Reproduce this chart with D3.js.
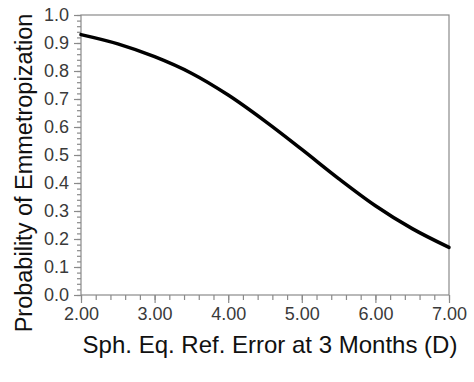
<!DOCTYPE html>
<html>
<head>
<meta charset="utf-8">
<script src="https://cdn.jsdelivr.net/npm/d3@7.9.0/dist/d3.min.js"></script>
<style>
  body { margin: 0; background: #fff; }
  svg { display: block; font-family: "Liberation Sans", Arial, sans-serif; }
</style>
</head>
<body>
<svg id="chart" width="474" height="382"></svg>
<script>
// refractive error at 3 months (D) and the fitted probability
const errorD = [2.0, 2.5, 3.0, 3.5, 4.0, 4.5, 5.0, 5.5, 6.0, 6.5, 7.0];
const probability = [0.93, 0.897, 0.851, 0.792, 0.714, 0.621, 0.52, 0.416, 0.319, 0.237, 0.17];

const xTicks = [2, 3, 4, 5, 6, 7];
const yTicks = [0, 0.1, 0.2, 0.3, 0.4, 0.5, 0.6, 0.7, 0.8, 0.9, 1.0];

const width = 474, height = 382;
const margin = { top: 15, right: 25, bottom: 87, left: 81 };

const svg = d3.select("#chart");

let x = d3.scaleLinear().domain([2, 7]).range([margin.left, width - margin.right]);
let y = d3.scaleLinear().domain([0, 1]).range([height - margin.bottom, margin.top]);

const axisColor = "#8a8a8a";

// frame around the plot
svg.append("rect")
    .attr("x", x(2))
    .attr("y", y(1))
    .attr("width", x(7) - x(2))
    .attr("height", y(0) - y(1))
    .attr("fill", "none")
    .attr("stroke", axisColor)
    .attr("stroke-width", 1.2);

// minor ticks first, then major ticks with labels
let xMinor = d3.axisBottom(x)
    .tickValues(d3.range(2, 7.001, 0.2))
    .tickSize(5)
    .tickFormat("");
let xMajor = d3.axisBottom(x)
    .tickValues(xTicks)
    .tickSize(8)
    .tickPadding(4)
    .tickFormat(d3.format(".2f"));

let yMinor = d3.axisLeft(y)
    .tickValues(d3.range(0, 1.0001, 0.02))
    .tickSize(4)
    .tickFormat("");
let yMajor = d3.axisLeft(y)
    .tickValues(yTicks)
    .tickSize(7)
    .tickPadding(5)
    .tickFormat(d3.format(".1f"));

function styleAxis(g) {
    g.select(".domain").remove();
    g.selectAll("line").attr("stroke", axisColor).attr("stroke-width", 1.2);
    g.selectAll("text")
        .attr("fill", "#3a3a3a")
        .style("font-size", "18px");
}

svg.append("g").attr("transform", `translate(0,${y(0)})`).call(xMinor).call(styleAxis);
svg.append("g").attr("transform", `translate(0,${y(0)})`).call(xMajor).call(styleAxis);
svg.append("g").attr("transform", `translate(${x(2)},0)`).call(yMinor).call(styleAxis);
svg.append("g").attr("transform", `translate(${x(2)},0)`).call(yMajor).call(styleAxis);

// curve
let line = d3.line()
    .x((d, i) => x(errorD[i]))
    .y((d) => y(d))
    .curve(d3.curveCatmullRom);

svg.append("path")
    .datum(probability)
    .attr("d", line)
    .attr("fill", "none")
    .attr("stroke", "#000")
    .attr("stroke-width", 3.5)
    .attr("stroke-linecap", "round");

// axis titles
svg.append("text")
    .attr("x", 270)
    .attr("y", 353)
    .attr("text-anchor", "middle")
    .attr("fill", "#111")
    .style("font-size", "24px")
    .text("Sph. Eq. Ref. Error at 3 Months (D)");

svg.append("text")
    .attr("transform", "translate(32,173) rotate(-90)")
    .attr("text-anchor", "middle")
    .attr("fill", "#111")
    .style("font-size", "23.5px")
    .text("Probability of Emmetropization");
</script>
</body>
</html>
